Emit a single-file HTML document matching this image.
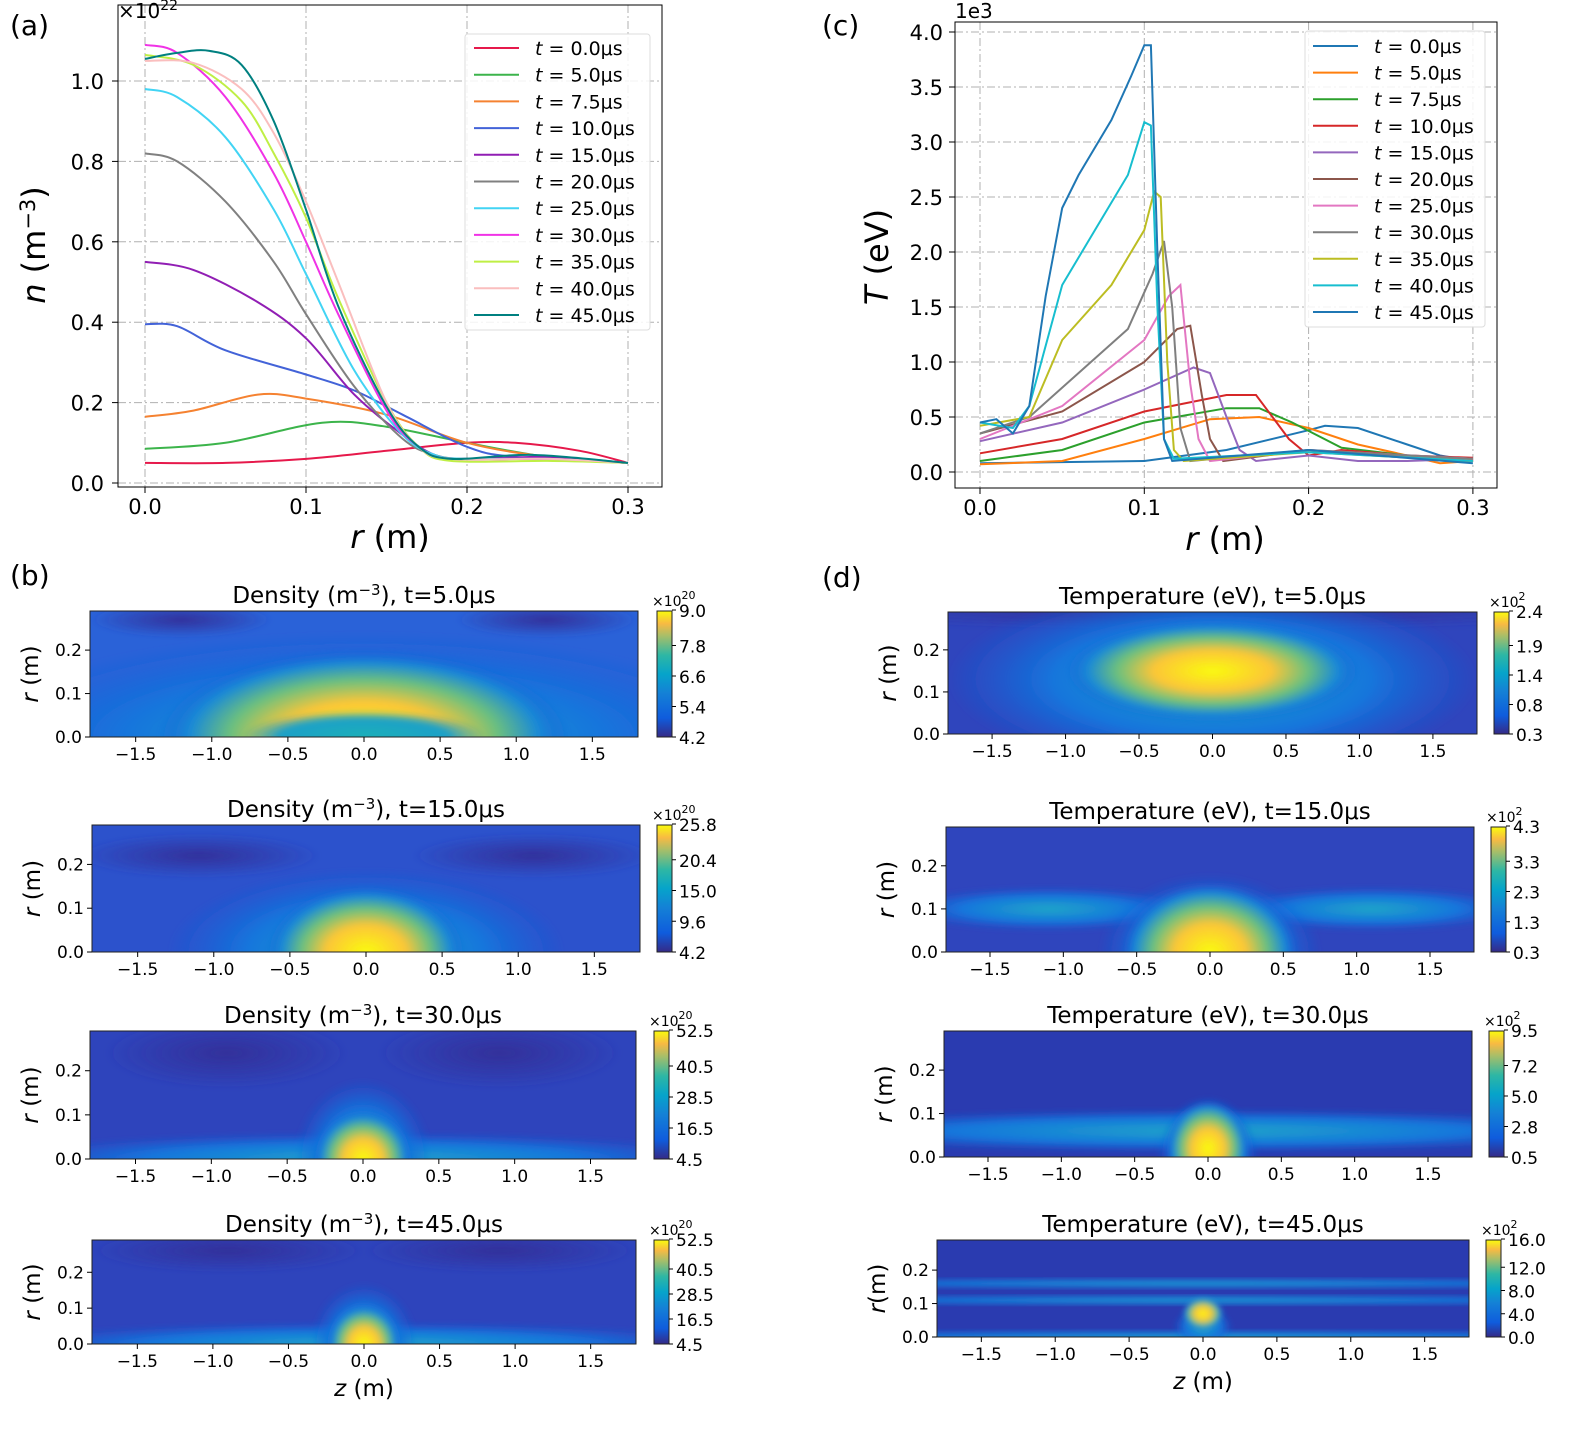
<!DOCTYPE html><html><head><meta charset="utf-8"><style>
html,body{margin:0;padding:0;background:#fff}
svg text{font-family:"DejaVu Sans","Liberation Sans",sans-serif;fill:#000}
</style></head><body>
<svg id="s" width="1580" height="1435" xmlns="http://www.w3.org/2000/svg">
<defs>
<linearGradient id="cb" x1="0" y1="1" x2="0" y2="0">
<stop offset="0" stop-color="#352a87"/><stop offset="0.15" stop-color="#0f5cdd"/><stop offset="0.35" stop-color="#1481d6"/><stop offset="0.5" stop-color="#06a4ca"/><stop offset="0.65" stop-color="#2eb7a4"/><stop offset="0.8" stop-color="#a5be6a"/><stop offset="0.9" stop-color="#f8ba43"/><stop offset="1" stop-color="#f9fb0e"/></linearGradient>
<radialGradient id="hot"><stop offset="0" stop-color="#f9fb0e"/><stop offset="0.4" stop-color="#fcc637"/><stop offset="0.65" stop-color="#6cc07e"/><stop offset="0.85" stop-color="#1a8ad6"/><stop offset="1" stop-color="#1a5ad6" stop-opacity="0"/></radialGradient>
<radialGradient id="mid"><stop offset="0" stop-color="#1fa6c8"/><stop offset="0.6" stop-color="#1576dc"/><stop offset="1" stop-color="#1560d8" stop-opacity="0"/></radialGradient>
<radialGradient id="teal"><stop offset="0" stop-color="#1fb0b8"/><stop offset="0.7" stop-color="#1fa0c8"/><stop offset="1" stop-color="#1fa0c8" stop-opacity="0"/></radialGradient>
<radialGradient id="dark"><stop offset="0" stop-color="#33309a"/><stop offset="1" stop-color="#33309a" stop-opacity="0"/></radialGradient>
<filter id="bl"><feGaussianBlur stdDeviation="3"/></filter>
</defs>
<g id="g"></g>
</svg>
<script>
var out=[];
function T(x,y,s,sz,anc,extra){out.push('<text x="'+x+'" y="'+y+'" font-size="'+sz+'" text-anchor="'+(anc||'middle')+'" '+(extra||'')+'>'+s+'</text>');}
function L(x1,y1,x2,y2,st){out.push('<line x1="'+x1+'" y1="'+y1+'" x2="'+x2+'" y2="'+y2+'" style="'+st+'"/>');}
function cr(pts){var d='M'+pts[0][0].toFixed(1)+','+pts[0][1].toFixed(1);
for(var i=0;i<pts.length-1;i++){var p0=pts[i-1]||pts[i],p1=pts[i],p2=pts[i+1],p3=pts[i+2]||p2;
d+='C'+(p1[0]+(p2[0]-p0[0])/6).toFixed(1)+','+(p1[1]+(p2[1]-p0[1])/6).toFixed(1)+' '+(p2[0]-(p3[0]-p1[0])/6).toFixed(1)+','+(p2[1]-(p3[1]-p1[1])/6).toFixed(1)+' '+p2[0].toFixed(1)+','+p2[1].toFixed(1);}return d;}
var grid='stroke:#b0b0b0;stroke-width:1;stroke-dasharray:8,3,2,3';
var tl=function(s){return '<tspan font-style="italic">t</tspan> = '+s+'μs';};
T(10,35,'(a)',28,'start');
var ax=function(r){return 145+r*1610},ay=function(n){return 483-n*402};
[0,.1,.2,.3].forEach(function(r){L(ax(r),5,ax(r),487,grid);L(ax(r),487,ax(r),493,'stroke:#000');T(ax(r),514,r.toFixed(1),21);});
[0,.2,.4,.6,.8,1.0].forEach(function(n){L(118,ay(n),662,ay(n),grid);L(112,ay(n),118,ay(n),'stroke:#000');T(104,ay(n)+8,n.toFixed(1),21,'end');});
T(118,18,'×10<tspan dy="-8" font-size="14">22</tspan>',20,'start');
var A=[['#e6194b',[[0,.05],[.05,.05],[.1,.06],[.15,.08],[.2,.1],[.23,.1],[.27,.08],[.3,.05]]],
['#3cb44b',[[0,.085],[.05,.1],[.11,.15],[.15,.14],[.2,.1],[.25,.065],[.3,.05]]],
['#f58231',[[0,.165],[.03,.18],[.07,.22],[.1,.21],[.15,.17],[.2,.1],[.25,.065],[.3,.05]]],
['#4363d8',[[0,.395],[.02,.39],[.05,.33],[.1,.27],[.13,.23],[.16,.17],[.2,.09],[.23,.065],[.3,.05]]],
['#911eb4',[[0,.55],[.03,.53],[.07,.45],[.1,.36],[.13,.22],[.16,.12],[.18,.07],[.2,.06],[.25,.065],[.3,.05]]],
['#808080',[[0,.82],[.02,.8],[.05,.7],[.08,.55],[.1,.42],[.13,.24],[.16,.11],[.18,.07],[.2,.06],[.25,.06],[.3,.05]]],
['#42d4f4',[[0,.98],[.02,.96],[.05,.86],[.08,.68],[.1,.52],[.13,.28],[.16,.12],[.18,.07],[.2,.06],[.25,.06],[.3,.05]]],
['#f032e6',[[0,1.09],[.02,1.07],[.05,.96],[.08,.77],[.1,.6],[.12,.42],[.15,.18],[.17,.09],[.19,.06],[.25,.06],[.3,.05]]],
['#bfef45',[[0,1.065],[.03,1.04],[.06,.95],[.08,.82],[.1,.66],[.12,.46],[.15,.2],[.17,.09],[.19,.055],[.25,.055],[.3,.05]]],
['#fabebe',[[0,1.05],[.03,1.045],[.06,.98],[.08,.87],[.1,.7],[.12,.5],[.15,.2],[.17,.09],[.19,.06],[.25,.06],[.3,.05]]],
['#008080',[[0,1.055],[.02,1.07],[.04,1.075],[.06,1.04],[.08,.9],[.1,.68],[.12,.44],[.15,.19],[.17,.09],[.19,.06],[.24,.07],[.3,.05]]]];
A.forEach(function(c){out.push('<path d="'+cr(c[1].map(function(p){return[ax(p[0]),ay(p[1])]}))+'" fill="none" stroke="'+c[0]+'" stroke-width="2"/>');});
var labs=['0.0','5.0','7.5','10.0','15.0','20.0','25.0','30.0','35.0','40.0','45.0'];
out.push('<rect x="465" y="34" width="185" height="296" rx="3" fill="#fff" fill-opacity="0.85" stroke="#ddd"/>');
A.forEach(function(c,i){var y=48+i*26.7;L(474,y,519,y,'stroke:'+c[0]+';stroke-width:2');T(535,y+7,tl(labs[i]),19,'start');});
out.push('<rect x="118" y="5" width="544" height="482" fill="none" stroke="#000"/>');
T(390,548,'<tspan font-style="italic">r</tspan> (m)',32);
T(45,245,'<tspan font-style="italic">n</tspan> (m<tspan dy="-10" font-size="21">−3</tspan><tspan dy="10">)</tspan>',32,'middle','transform="rotate(-90 45 245)"');
T(822,35,'(c)',28,'start');
var cx=function(r){return 980+r*1643},cy=function(t){return 472-t*110};
[0,.1,.2,.3].forEach(function(r){L(cx(r),22,cx(r),488,grid);L(cx(r),488,cx(r),494,'stroke:#000');T(cx(r),515,r.toFixed(1),21);});
[0,.5,1,1.5,2,2.5,3,3.5,4].forEach(function(t){L(955,cy(t),1497,cy(t),grid);L(949,cy(t),955,cy(t),'stroke:#000');T(943,cy(t)+8,t.toFixed(1),21,'end');});
T(955,18,'1e3',20,'start');
var C=[['#1f77b4',[[0,.08],[.1,.1],[.15,.2],[.2,.38],[.21,.42],[.23,.4],[.26,.25],[.28,.15],[.3,.1]]],
['#ff7f0e',[[0,.07],[.05,.1],[.1,.3],[.14,.48],[.17,.5],[.2,.4],[.23,.25],[.26,.15],[.28,.08],[.3,.1]]],
['#2ca02c',[[0,.1],[.05,.2],[.1,.45],[.15,.58],[.17,.58],[.19,.45],[.22,.22],[.26,.15],[.3,.12]]],
['#d62728',[[0,.17],[.05,.3],[.1,.55],[.15,.7],[.168,.7],[.178,.5],[.188,.3],[.2,.15],[.22,.2],[.26,.15],[.3,.13]]],
['#9467bd',[[0,.28],[.05,.45],[.1,.75],[.13,.95],[.14,.9],[.15,.5],[.158,.2],[.168,.1],[.2,.15],[.23,.1],[.26,.1],[.3,.12]]],
['#8c564b',[[0,.35],[.05,.55],[.1,1.0],[.12,1.3],[.128,1.33],[.135,.7],[.14,.3],[.148,.1],[.2,.2],[.25,.15],[.3,.12]]],
['#e377c2',[[0,.3],[.05,.6],[.1,1.2],[.115,1.6],[.122,1.7],[.128,.8],[.133,.3],[.14,.1],[.2,.2],[.3,.12]]],
['#7f7f7f',[[0,.35],[.03,.5],[.06,.9],[.09,1.3],[.105,1.8],[.112,2.1],[.117,1.5],[.122,.4],[.128,.1],[.2,.2],[.3,.12]]],
['#bcbd22',[[0,.42],[.03,.5],[.05,1.2],[.08,1.7],[.1,2.2],[.106,2.55],[.11,2.5],[.114,1.0],[.118,.2],[.124,.1],[.2,.18],[.3,.1]]],
['#17becf',[[0,.45],[.02,.4],[.03,.6],[.05,1.7],[.07,2.2],[.09,2.7],[.1,3.18],[.104,3.15],[.108,1.5],[.112,.3],[.118,.12],[.2,.18],[.3,.1]]],
['#1f77b4',[[0,.45],[.01,.48],[.02,.35],[.03,.6],[.04,1.6],[.05,2.4],[.06,2.7],[.08,3.2],[.092,3.6],[.1,3.88],[.104,3.88],[.108,2.0],[.112,.3],[.117,.1],[.2,.2],[.3,.08]]]];
C.forEach(function(c){out.push('<polyline points="'+c[1].map(function(p){return cx(p[0]).toFixed(1)+','+cy(p[1]).toFixed(1)}).join(' ')+'" fill="none" stroke="'+c[0]+'" stroke-width="2"/>');});
out.push('<rect x="1305" y="31" width="180" height="296" rx="3" fill="#fff" fill-opacity="0.85" stroke="#ddd"/>');
C.forEach(function(c,i){var y=46+i*26.6;L(1313,y,1358,y,'stroke:'+c[0]+';stroke-width:2');T(1374,y+7,tl(labs[i]),19,'start');});
out.push('<rect x="955" y="22" width="542" height="466" fill="none" stroke="#000"/>');
T(1225,550,'<tspan font-style="italic">r</tspan> (m)',32);
T(888,257,'<tspan font-style="italic">T</tspan> (eV)',32,'middle','transform="rotate(-90 888 257)"');
T(10,585,'(b)',28,'start');T(822,587,'(d)',28,'start');
var n=0;
function heat(x0,x1,y0,y1,title,ticks,blobs,bg,cbx,xl,rlab){
 n++;var w=x1-x0,h=y1-y0,zx=function(z){return x0+(z+1.8)/3.6*w},ry=function(r){return y1-r/0.29*h};
 out.push('<clipPath id="c'+n+'"><rect x="'+x0+'" y="'+y0+'" width="'+w+'" height="'+h+'"/></clipPath>');
 out.push('<g clip-path="url(#c'+n+')"><rect x="'+x0+'" y="'+y0+'" width="'+w+'" height="'+h+'" fill="'+bg+'"/>');
 blobs.forEach(function(b){out.push('<ellipse cx="'+zx(b[0])+'" cy="'+ry(b[1])+'" rx="'+(b[2]/3.6*w)+'" ry="'+(b[3]/0.29*h)+'" fill="url(#'+b[4]+')" filter="url(#bl)"/>');});
 out.push('</g><rect x="'+x0+'" y="'+y0+'" width="'+w+'" height="'+h+'" fill="none" stroke="#222"/>');
 T((x0+x1)/2,y0-8,title,23);
 [-1.5,-1,-.5,0,.5,1,1.5].forEach(function(z){var X=zx(z);L(X,y1,X,y1+5,'stroke:#000');T(X,y1+23,(z<0?'−':'')+Math.abs(z).toFixed(1),17);});
 [0,.1,.2].forEach(function(r){L(x0-5,ry(r),x0,ry(r),'stroke:#000');T(x0-8,ry(r)+6,r.toFixed(1),17,'end');});
 T(x0-52,(y0+y1)/2,rlab,23,'middle','transform="rotate(-90 '+(x0-52)+' '+(y0+y1)/2+')"');
 out.push('<rect x="'+cbx+'" y="'+y0+'" width="15" height="'+h+'" fill="url(#cb)" stroke="#222"/>');
 ticks[1].forEach(function(t,i){var Y=y1-i*(h-4)/4-(i==4?5:0);L(cbx+15,Y,cbx+19,Y,'stroke:#000');T(cbx+22,Y+7,t,17,'start');});
 T(cbx-5,y0-5,ticks[0],14,'start');
 if(xl)T((x0+x1)/2,y1+52,'<tspan font-style="italic">z</tspan> (m)',23);
}
var rm='<tspan font-style="italic">r</tspan> (m)';
var d20='×10<tspan dy="-7" font-size="11">20</tspan>',d2='×10<tspan dy="-7" font-size="11">2</tspan>';
var dens='Density (m<tspan dy="-8" font-size="15">−3</tspan><tspan dy="8">), t=</tspan>';
heat(90,638,611,737,dens+'5.0μs',[d20,['4.2','5.4','6.6','7.8','9.0']],
 [[-1.2,.27,.6,.04,'dark'],[1.2,.27,.6,.04,'dark'],[0,0,2.6,.24,'mid'],[0,0,1.35,.2,'hot'],[0,.0,.8,.06,'teal']],'#2a62d8',657,0,rm);
heat(92,640,825,952,dens+'15.0μs',[d20,['4.2','9.6','15.0','20.4','25.8']],
 [[-1.1,.22,.8,.05,'dark'],[1.1,.22,.8,.05,'dark'],[0,0,1.3,.19,'mid'],[0,0,.65,.15,'hot']],'#2c52cc',657,0,rm);
heat(90,636,1031,1159,dens+'30.0μs',[d20,['4.5','16.5','28.5','40.5','52.5']],
 [[-.9,.24,.8,.08,'dark'],[.9,.24,.8,.08,'dark'],[0,0,2.4,.06,'mid'],[0,0,.45,.18,'mid'],[0,0,.32,.11,'hot']],'#2e44bc',654,0,rm);
heat(92,636,1240,1344,dens+'45.0μs',[d20,['4.5','16.5','28.5','40.5','52.5']],
 [[-.9,.26,.9,.06,'dark'],[.9,.26,.9,.06,'dark'],[0,0,2.4,.06,'mid'],[0,0,.35,.17,'mid'],[0,0,.24,.11,'hot']],'#2e44bc',654,1,rm);
heat(948,1477,612,734,'Temperature (eV), t=5.0μs',[d2,['0.3','0.8','1.4','1.9','2.4']],
 [[0,.29,3,.04,'dark'],[0,.13,1.8,.22,'mid'],[0,.15,1.0,.12,'hot']],'#2f45bd',1494,0,rm);
heat(946,1474,827,952,'Temperature (eV), t=15.0μs',[d2,['0.3','1.3','2.3','3.3','4.3']],
 [[-1.1,.1,1,.05,'mid'],[1.1,.1,1,.05,'mid'],[0,0,.75,.18,'mid'],[0,0,.6,.16,'hot']],'#2f45bd',1491,0,rm);
heat(944,1472,1031,1157,'Temperature (eV), t=30.0μs',[d2,['0.5','2.8','5.0','7.2','9.5']],
 [[0,.06,3,.05,'mid'],[0,0,.35,.14,'mid'],[0,.02,.28,.11,'hot']],'#2a3bb0',1489,0,rm);
heat(937,1469,1240,1337,'Temperature (eV), t=45.0μs',[d2,['0.0','4.0','8.0','12.0','16.0']],
 [[0,.16,3.6,.015,'mid'],[0,.11,3.6,.015,'mid'],[0,.0,3.6,.02,'mid'],[0,.03,.2,.06,'mid'],[0,.07,.14,.05,'hot']],'#2a3bb0',1486,1,'<tspan font-style="italic">r</tspan>(m)');
document.getElementById('g').innerHTML=out.join('');
</script>
</body></html>
